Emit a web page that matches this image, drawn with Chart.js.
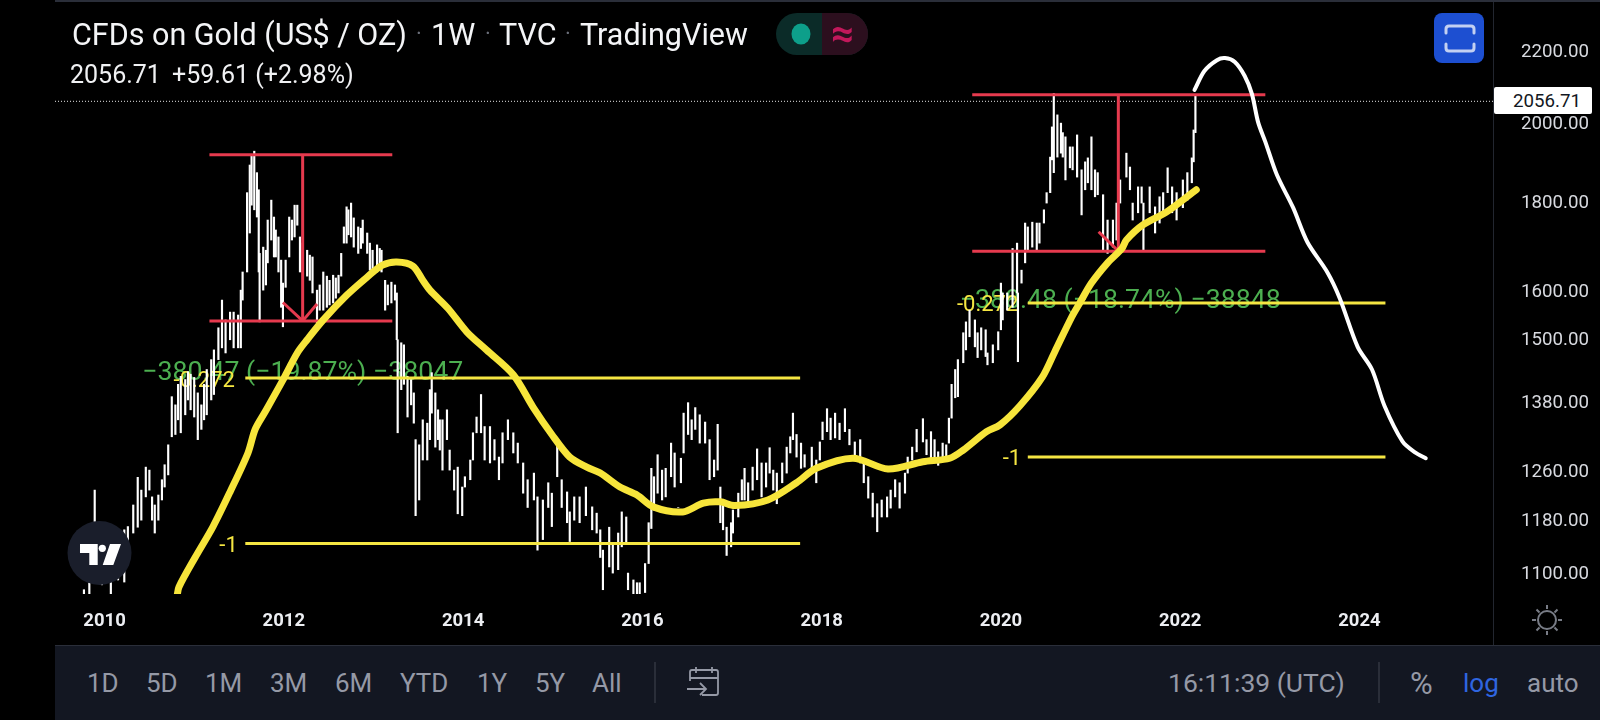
<!DOCTYPE html>
<html>
<head>
<meta charset="utf-8">
<title>CFDs on Gold</title>
<script src="https://cdn.jsdelivr.net/npm/chart.js@4/dist/chart.umd.js"></script>
<style>
  html, body { margin: 0; padding: 0; background: #000; }
  #wrap { position: relative; width: 1600px; height: 720px; overflow: hidden; background: #000; font-family: Roboto, sans-serif; }
  #gold { position: absolute; left: 0; top: 0; }
  .t { position: absolute; white-space: nowrap; line-height: 1; transform: translateY(-50%); }
  .head { color: #f4f5f7; font-size: 30.5px; top: 34.5px; }
  .sub { color: #f0f1f3; font-size: 25px; top: 74px; }
  .tool { color: #9599a6; font-size: 26px; top: 683px; }
  .dot { color: #6b6f7a; font-size: 22px; top: 34px; }
  #topline { position: absolute; left: 55px; top: 0; width: 1545px; height: 2px; background: #2a2e39; }
  #panel { position: absolute; left: 55px; top: 645px; width: 1545px; height: 75px; background: #131722; border-top: 1px solid #2a2e39; box-sizing: border-box; }
  #axisline { position: absolute; left: 1493px; top: 2px; width: 1px; height: 643px; background: #22262f; }
  .sep { position: absolute; width: 2px; top: 662px; height: 41px; background: #2a2e39; }
  #pricebox { position: absolute; left: 1494px; top: 87px; width: 98px; height: 27px; background: #fff; border-radius: 2px; }
  #pill { position: absolute; left: 776px; top: 13px; width: 92px; height: 42px; border-radius: 21px; overflow: hidden; background: #0b2b28; }
  #pill div { position: absolute; left: 46px; top: 0; width: 46px; height: 42px; background: #2c0f1e; }
  svg.ic { position: absolute; left: 0; top: 0; pointer-events: none; }
</style>
</head>
<body>
<div id="wrap">
  <canvas id="gold" width="1600" height="720"></canvas>

  <div id="topline"></div>
  <div id="axisline"></div>
  <div id="panel"></div>

  <span class="t head" style="left:72px">CFDs on Gold (US$ / OZ)</span>
  <span class="t dot" style="left:416px">·</span>
  <span class="t head" style="left:431px">1W</span>
  <span class="t dot" style="left:485px">·</span>
  <span class="t head" style="left:499px">TVC</span>
  <span class="t dot" style="left:565px">·</span>
  <span class="t head" style="left:580px">TradingView</span>

  <span class="t sub" style="left:70px">2056.71</span>
  <span class="t sub" style="left:172px">+59.61 (+2.98%)</span>

  <div id="pill"><div></div></div>
  <span class="t" style="left:831px;top:34px;color:#c2185b;font-size:40px;font-weight:700">≈</span>

  <div id="pricebox"></div>
  <span class="t" style="left:1513px;top:101px;color:#131722;font-size:18.7px">2056.71</span>

  <span class="t tool" style="left:87px">1D</span>
  <span class="t tool" style="left:146px">5D</span>
  <span class="t tool" style="left:205px">1M</span>
  <span class="t tool" style="left:270px">3M</span>
  <span class="t tool" style="left:335px">6M</span>
  <span class="t tool" style="left:400px">YTD</span>
  <span class="t tool" style="left:477px">1Y</span>
  <span class="t tool" style="left:535px">5Y</span>
  <span class="t tool" style="left:592px">All</span>
  <div class="sep" style="left:654px"></div>
  <span class="t tool" style="left:1168px;font-size:26.5px">16:11:39 (UTC)</span>
  <div class="sep" style="left:1378px"></div>
  <span class="t tool" style="left:1410px;font-size:31px">%</span>
  <span class="t tool" style="left:1463px;color:#2f66e0">log</span>
  <span class="t tool" style="left:1527px">auto</span>

  <svg class="ic" width="1600" height="720">
    <!-- TradingView badge -->
    <circle cx="99.5" cy="553" r="32" fill="#1a1e2b"/>
    <path d="M80 544h17.700v21h-8.400v-12h-9.300z M110 544h11l-7.700 21h-10.600z" fill="#fff"/>
    <circle cx="102.300" cy="548.300" r="3.600" fill="#fff"/>
    <!-- legend dot -->
    <ellipse cx="801" cy="34" rx="9.500" ry="10.500" fill="#0d9f8a"/>
    <!-- fullscreen button -->
    <rect x="1434" y="13" width="50" height="50" rx="8" fill="#1d4fd1"/>
    <path d="M1446 33v-4q0-3 3-3h22q3 0 3 3v4M1446 44v4q0 3 3 3h22q3 0 3-3v-4" fill="none" stroke="#c3d0f2" stroke-width="3" stroke-linecap="round"/>
    <!-- calendar -->
    <path d="M690 681v-9q0-2 2-2h24q2 0 2 2v21q0 2-2 2h-14M690 678h28M696 667v6M712 667v6M687 689h19M700 683l6 6-6 6" fill="none" stroke="#9599a6" stroke-width="1.800"/>
    <!-- sun -->
    <circle cx="1547" cy="620" r="9" fill="none" stroke="#787c86" stroke-width="2"/>
    <path d="M1547 605v4M1547 631v4M1532 620h4M1558 620h4M1536.500 609.500l3 3M1554.500 627.500l3 3M1557.500 609.500l-3 3M1539.500 627.500l-3 3" stroke="#787c86" stroke-width="2"/>
  </svg>
</div>

<script>
const xTicks = [2010, 2012, 2014, 2016, 2018, 2020, 2022, 2024];
const yTicks = [1100, 1180, 1260, 1380, 1500, 1600, 1800, 2000, 2200];
const lastPrice = 2056.71;

const barYears = [
2009.77,2009.83,2009.89,2009.97,2010.07,2010.15,2010.22,2010.26,2010.32,2010.37,2010.41,2010.46,2010.50,2010.53,2010.56,2010.60,2010.64,2010.67,2010.71,2010.75,2010.79,2010.82,2010.85,2010.90,2010.93,2010.96,
2011.00,2011.04,2011.08,2011.11,2011.14,2011.19,2011.22,2011.27,2011.31,2011.35,2011.40,2011.44,2011.49,2011.52,2011.54,2011.59,2011.62,2011.64,2011.67,2011.70,2011.72,2011.73,2011.77,2011.80,2011.82,2011.86,2011.89,2011.91,2011.94,2011.97,2011.99,
2012.02,2012.06,2012.09,2012.12,2012.15,2012.18,2012.21,2012.26,2012.29,2012.32,2012.37,2012.40,2012.44,2012.48,2012.51,2012.55,2012.58,2012.61,2012.64,2012.67,2012.70,2012.72,2012.75,2012.78,2012.83,2012.86,2012.88,2012.93,2012.96,2012.99,
2013.04,2013.07,2013.09,2013.13,2013.16,2013.20,2013.24,2013.26,2013.27,2013.31,2013.34,2013.38,2013.42,2013.45,2013.47,2013.51,2013.55,2013.60,2013.63,2013.65,2013.69,2013.72,2013.74,2013.77,2013.82,2013.85,2013.90,2013.94,2013.99,
2014.02,2014.08,2014.11,2014.15,2014.20,2014.24,2014.30,2014.35,2014.40,2014.44,2014.50,2014.56,2014.61,2014.67,2014.72,2014.79,2014.83,2014.89,2014.95,2014.99,
2015.05,2015.10,2015.16,2015.19,2015.24,2015.30,2015.37,2015.44,2015.49,2015.53,2015.56,2015.63,2015.67,2015.73,2015.77,2015.82,2015.84,2015.90,2015.94,2015.97,
2016.03,2016.07,2016.10,2016.13,2016.17,2016.22,2016.26,2016.32,2016.36,2016.40,2016.43,2016.46,2016.51,2016.55,2016.59,2016.64,2016.70,2016.75,2016.80,2016.84,2016.87,2016.90,2016.94,2016.99,
2017.01,2017.07,2017.11,2017.14,2017.18,2017.23,2017.28,2017.33,2017.38,2017.42,2017.46,2017.50,2017.56,2017.61,2017.65,2017.68,2017.72,2017.77,2017.81,2017.89,2017.94,2017.98,
2018.01,2018.06,2018.10,2018.15,2018.20,2018.26,2018.31,2018.37,2018.43,2018.47,2018.52,2018.57,2018.62,2018.67,2018.73,2018.77,2018.82,2018.87,2018.93,2018.96,
2019.01,2019.06,2019.13,2019.17,2019.22,2019.26,2019.30,2019.35,2019.39,2019.42,2019.45,2019.49,2019.52,2019.58,2019.61,2019.65,2019.71,2019.74,2019.78,2019.83,2019.85,2019.91,2019.97,
2020.00,2020.02,2020.07,2020.13,2020.18,2020.19,2020.23,2020.27,2020.30,2020.35,2020.40,2020.43,2020.48,2020.51,2020.55,2020.57,2020.59,2020.63,2020.67,2020.69,2020.72,2020.77,2020.80,2020.85,2020.90,2020.94,2020.97,
2021.01,2021.05,2021.08,2021.14,2021.19,2021.25,2021.29,2021.33,2021.40,2021.44,2021.47,2021.53,2021.57,2021.59,2021.66,2021.72,2021.77,2021.81,2021.86,2021.91,2021.96,
2022.03,2022.08,2022.13,2022.15,2022.17];

const barHighs = [
1076,1086,1228,1150,1142,1150,1165,1170,1204,1249,1228,1266,1261,1217,1204,1220,1245,1270,1304,1390,1375,1413,1428,1422,1437,1432,
1426,1397,1375,1413,1441,1460,1479,1523,1580,1539,1555,1555,1549,1601,1640,1822,1890,1915,1925,1871,1829,1681,1695,1688,1757,1804,1764,1734,1718,1666,1616,
1666,1764,1757,1792,1792,1718,1704,1688,1677,1673,1601,1612,1640,1631,1622,1633,1627,1633,1681,1741,1788,1781,1797,1762,1741,1738,1757,1727,1704,1688,
1700,1692,1688,1622,1612,1618,1612,1595,1499,1493,1489,1428,1422,1397,1313,1304,1348,1342,1403,1435,1397,1366,1348,1348,1366,1295,1261,1266,1233,
1250,1278,1325,1353,1394,1336,1336,1313,1283,1325,1348,1325,1307,1273,1245,1256,1217,1212,1240,1223,
1307,1245,1225,1193,1217,1217,1233,1201,1191,1165,1134,1169,1145,1160,1193,1185,1100,1090,1086,1086,
1114,1176,1264,1250,1287,1261,1264,1307,1290,1200,1281,1360,1379,1348,1370,1357,1344,1313,1278,1340,1233,1206,1169,1176,
1196,1223,1245,1264,1240,1266,1297,1273,1273,1299,1261,1256,1273,1300,1318,1360,1322,1307,1287,1300,1278,1309,
1344,1368,1351,1360,1342,1368,1331,1309,1313,1273,1250,1223,1206,1212,1217,1228,1245,1240,1256,1283,
1300,1331,1350,1313,1327,1313,1292,1307,1304,1351,1413,1441,1460,1513,1535,1559,1539,1513,1523,1519,1473,1489,1515,
1616,1595,1595,1692,1704,1595,1644,1750,1741,1752,1750,1750,1781,1822,1910,1988,2078,2020,1998,1973,1962,1936,1936,1967,1878,1898,1908,
1962,1878,1871,1817,1757,1757,1797,1853,1920,1885,1797,1836,1836,1797,1836,1788,1812,1822,1883,1836,1822,
1853,1871,1908,1980,2073];

const barLows = [
1060,1060,1160,1083,1060,1090,1087,1123,1160,1169,1180,1217,1228,1180,1160,1180,1212,1233,1253,1318,1322,1348,1325,1357,1384,1366,
1353,1313,1331,1348,1357,1384,1394,1460,1483,1473,1499,1483,1483,1483,1580,1640,1727,1792,1781,1764,1640,1535,1601,1612,1660,1711,1673,1673,1640,1565,1525,
1607,1673,1711,1718,1745,1640,1640,1631,1622,1595,1533,1559,1559,1565,1570,1574,1584,1595,1631,1704,1704,1723,1718,1695,1681,1692,1704,1681,1644,1640,
1640,1644,1640,1559,1570,1574,1580,1499,1325,1403,1413,1353,1375,1342,1187,1212,1278,1278,1313,1360,1300,1313,1295,1261,1313,1261,1228,1190,1187,
1233,1245,1278,1325,1325,1278,1273,1278,1245,1273,1313,1290,1273,1223,1200,1212,1134,1150,1200,1170,
1250,1200,1176,1147,1180,1176,1187,1165,1160,1123,1076,1109,1100,1105,1139,1145,1076,1060,1060,1060,
1072,1114,1167,1196,1223,1212,1217,1250,1233,1200,1240,1290,1322,1313,1331,1307,1307,1245,1250,1261,1176,1165,1126,1139,
1160,1185,1212,1212,1206,1228,1245,1217,1233,1256,1228,1206,1240,1256,1290,1313,1283,1264,1266,1261,1240,1278,
1313,1327,1313,1316,1313,1327,1304,1283,1273,1240,1215,1185,1162,1185,1185,1199,1217,1199,1223,1256,
1278,1292,1309,1287,1278,1283,1269,1278,1283,1307,1351,1388,1390,1454,1479,1505,1485,1464,1479,1466,1450,1454,1479,
1519,1539,1559,1565,1595,1456,1616,1660,1688,1695,1688,1704,1750,1797,1822,1903,1871,1910,1920,1910,1853,1883,1878,1860,1769,1829,1846,
1829,1812,1817,1688,1681,1695,1711,1797,1860,1829,1757,1774,1797,1688,1774,1727,1750,1774,1822,1774,1757,
1786,1804,1846,1898,1973];

// thick yellow hand-drawn average
const avgYears = [2010.81,2010.83,2011.01,2011.21,2011.40,2011.60,2011.68,2011.79,2011.98,2012.15,2012.26,2012.44,2012.70,2012.93,2013.10,2013.26,2013.44,2013.55,2013.63,2013.83,2014.04,2014.26,2014.56,2014.78,2014.99,2015.19,2015.38,2015.53,2015.75,2015.94,2016.12,2016.45,2016.68,2016.87,2017.03,2017.40,2017.72,2017.94,2018.35,2018.74,2019.13,2019.43,2019.58,2019.84,2019.99,2020.21,2020.46,2020.60,2020.79,2020.88,2021.01,2021.19,2021.35,2021.40,2021.58,2021.85,2022.18];
const avgValues = [1068,1080,1123,1170,1225,1290,1331,1362,1418,1473,1499,1539,1590,1629,1655,1662,1653,1622,1601,1563,1515,1479,1431,1371,1322,1283,1266,1256,1233,1220,1201,1193,1207,1209,1203,1212,1240,1264,1281,1263,1275,1281,1295,1327,1339,1373,1426,1475,1545,1574,1616,1660,1692,1711,1745,1776,1829];

// white hand-drawn projection
const sketchYears = [2022.16,2022.27,2022.41,2022.50,2022.61,2022.72,2022.80,2022.87,2022.95,2023.08,2023.26,2023.42,2023.64,2023.78,2023.98,2024.14,2024.28,2024.48,2024.62,2024.74];
const sketchValues = [2088,2141,2172,2178,2167,2127,2077,2000,1949,1865,1786,1706,1640,1584,1485,1441,1373,1310,1291,1281];

// drawn lines: [x1, price1, x2, price2]
const redLines = [
  [2011.17, 1916, 2013.21, 1916], [2011.17, 1537, 2013.21, 1537], [2012.21, 1916, 2012.21, 1537],
  [2011.99, 1575, 2012.21, 1537], [2012.37, 1572, 2012.21, 1537],
  [2019.68, 2075, 2022.95, 2075], [2019.68, 1686, 2022.95, 1686], [2021.31, 2075, 2021.31, 1686],
  [2021.09, 1730, 2021.31, 1686]
];
const yellowLines = [
  [2011.57, 1425, 2017.76, 1425], [2011.57, 1144, 2017.76, 1144],
  [2020.30, 1574, 2024.29, 1574], [2020.30, 1283, 2024.29, 1283]
];

// drawing labels: [text, x, price, colour, size]
const chartLabels = [
  ['−380.47 (−19.87%) −38047', 2010.42, 1433, '#4caf50', 26.7],
  ['-0.272', 2010.77, 1419, '#f5e642', 22],
  ['-1', 2011.28, 1139, '#f5e642', 22],
  ['−388.48 (−18.74%) −38848', 2019.54, 1578, '#4caf50', 26.7],
  ['-0.272', 2019.51, 1569, '#f5e642', 22],
  ['-1', 2020.02, 1279, '#f5e642', 22]
];

function segmentSet(seg, color, width, order) {
  return {
    type: 'line',
    data: [{ x: seg[0], y: seg[1] }, { x: seg[2], y: seg[3] }],
    borderColor: color,
    borderWidth: width,
    pointRadius: 0,
    order: order
  };
}

function curveSet(xs, ys, color, width, order) {
  return {
    type: 'line',
    data: xs.map((x, i) => ({ x: x, y: ys[i] })),
    borderColor: color,
    borderWidth: width,
    borderCapStyle: 'round',
    borderJoinStyle: 'round',
    tension: 0.3,
    pointRadius: 0,
    order: order
  };
}

// text of the drawings sits under the bars and lines
const drawingLabels = {
  id: 'drawingLabels',
  beforeDatasetsDraw(chart) {
    const c = chart.ctx;
    c.save();
    c.textBaseline = 'middle';
    chartLabels.forEach(l => {
      c.fillStyle = l[3];
      c.font = l[4] + 'px Roboto';
      c.fillText(l[0], chart.scales.x.getPixelForValue(l[1]), chart.scales.y.getPixelForValue(l[2]));
    });
    c.restore();
  }
};

const datasets = [
  {
    type: 'bar',
    data: barYears.map((x, i) => ({ x: x, y: [barLows[i], barHighs[i]] })),
    backgroundColor: '#ffffff',
    barThickness: 1.5,
    order: 10
  },
  {
    type: 'line',
    data: [{ x: 2009.447, y: lastPrice }, { x: 2025.49, y: lastPrice }],
    borderColor: '#e8e8e8',
    borderWidth: 1,
    borderDash: [1, 2],
    pointRadius: 0,
    order: 9
  }
];
redLines.forEach(s => datasets.push(segmentSet(s, '#e63a4e', 3, 5)));
yellowLines.forEach(s => datasets.push(segmentSet(s, '#f5e642', 3, 4)));
datasets.push(curveSet(avgYears, avgValues, '#f7e53b', 7, 2));
datasets.push(curveSet(sketchYears, sketchValues, '#ffffff', 4, 1));

new Chart(document.getElementById('gold').getContext('2d'), {
  type: 'bar',
  data: { datasets: datasets },
  plugins: [drawingLabels],
  options: {
    responsive: false,
    animation: false,
    layout: { padding: { left: 55 } },
    plugins: { legend: { display: false }, tooltip: { enabled: false } },
    scales: {
      x: {
        type: 'linear',
        offset: false,
        min: 2009.447,
        max: 2025.49,
        grid: { display: false, offset: false },
        border: { display: false },
        afterBuildTicks: axis => { axis.ticks = xTicks.map(v => ({ value: v })); },
        afterFit: axis => { axis.height = 126; axis.paddingLeft = 0; axis.paddingRight = 0; },
        ticks: {
          autoSkip: false,
          maxRotation: 0,
          padding: 8,
          color: '#eceef2',
          font: { family: 'Roboto', size: 18.5, weight: 'bold' },
          callback: v => String(v)
        }
      },
      y: {
        type: 'logarithmic',
        position: 'right',
        min: 1069.9,
        max: 2352.5,
        grid: { display: false },
        border: { display: false },
        afterBuildTicks: axis => { axis.ticks = yTicks.map(v => ({ value: v })); },
        afterFit: axis => { axis.width = 107; axis.paddingTop = 0; axis.paddingBottom = 0; },
        ticks: {
          autoSkip: false,
          padding: 20,
          labelOffset: 1.5,
          color: '#d8dae0',
          font: { family: 'Roboto', size: 18.7 },
          callback: v => Number(v).toFixed(2)
        }
      }
    }
  }
});
</script>
</body>
</html>
